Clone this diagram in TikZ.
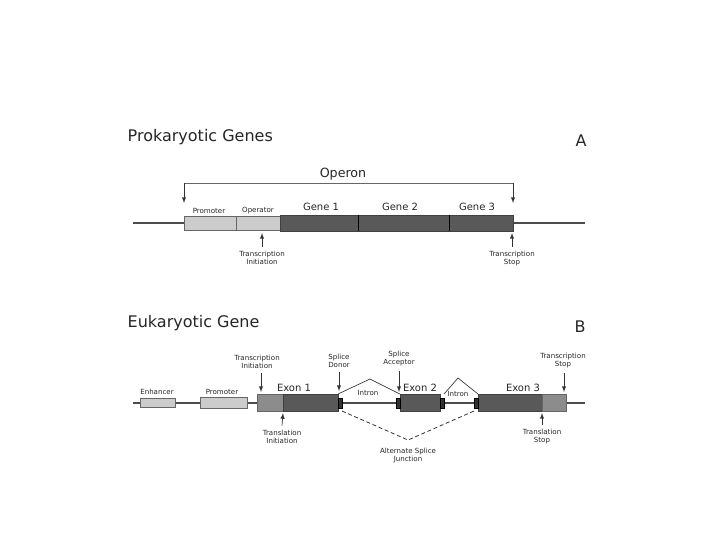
\documentclass[tikz,border=0pt]{standalone}
\usepackage{fontspec}
\setmainfont{DejaVu Sans}
\begin{document}
\begin{tikzpicture}[x=0.75pt,y=-0.75pt,
 dna/.style={line width=2.2pt,draw=black!70},
 lite/.style={fill=black!20,draw=black!60,line width=0.4pt},
 mid/.style={fill=black!45,draw=black!60,line width=0.4pt},
 dark/.style={fill=black!65,draw=black!75,line width=0.4pt},
 sitemark/.style={fill=black!80,draw=black},
 tiny/.style={font=\fontsize{5.3}{6}\selectfont,align=center,text=black!85},
 lab/.style={font=\fontsize{7.5}{9}\selectfont,text=black!85},
 ttl/.style={font=\fontsize{12}{14}\selectfont,text=black!85,anchor=west},
 arr/.style={-latex,line width=0.5pt,black!80}]
\useasboundingbox (0,0) rectangle (720,540);
% ---- A
\node[ttl] (t1) at (123,137) {Prokaryotic Genes};
\node[ttl] (a) at (571,141) {A};
\node[font=\fontsize{9.5}{11}\selectfont,text=black!85] (op) at (343,174) {Operon};
\coordinate (bl) at (184,183); \coordinate (br) at (513,183);
\coordinate (blb) at (184,203); \coordinate (brb) at (513,203);
\draw[black!60,line width=0.5pt] (bl) -- (br);
\draw[arr] (bl) -- (blb); \draw[arr] (br) -- (brb);
\coordinate (d1) at (133,223); \coordinate (d2) at (585,223);
\draw[dna] (d1) -- (d2);
\draw[lite] (184,216) rectangle (236,230);
\draw[lite] (236,216) rectangle (280,230);
\draw[dark] (280,215) rectangle (513,231);
\draw[black,line width=0.6pt] (358,215) -- (358,231) (449,215) -- (449,231);
\node[tiny] (pr) at (209,211) {Promoter};
\node[tiny] (opr) at (258,211) {Operator};
\node[lab] (g1) at (321,207) {Gene 1};
\node[lab] (g2) at (400,207) {Gene 2};
\node[lab] (g3) at (477,207) {Gene 3};
\node[tiny] (ti) at (262,258) {Transcription\\Initiation};
\node[tiny] (ts) at (512,259) {Transcription\\Stop};
\draw[arr] (ti.north) -- (262,233);
\draw[arr] (ts.north) -- (512,233);
% ---- B
\node[ttl] (t2) at (123,323) {Eukaryotic Gene};
\node[ttl] (b) at (570,327) {B};
\coordinate (e1) at (133,403); \coordinate (e2) at (585,403);
\draw[dna] (e1) -- (e2);
\draw[lite] (140,398) rectangle (175,407);
\draw[lite] (200,397) rectangle (247,408);
\node[tiny] (en) at (157,392) {Enhancer};
\node[tiny] (pm) at (222,392) {Promoter};
\draw[mid] (257,394) rectangle (283,411);
\draw[dark] (283,394) rectangle (338,411);
\draw[dark] (400,394) rectangle (440,411);
\draw[dark] (478,394) rectangle (542,411);
\draw[mid] (542,394) rectangle (566,411);
\foreach \x in {338,396,440,474} \draw[sitemark] (\x,398) rectangle (\x+4,408);
\node[lab] (x1) at (294,388) {Exon 1};
\node[lab] (x2) at (420,388) {Exon 2};
\node[lab] (x3) at (523,388) {Exon 3};
\node[tiny] (in1) at (368,393) {Intron};
\node[tiny] (in2) at (458,394) {Intron};
\draw[black!80,line width=0.5pt] (338,394) -- (370,379) -- (400,394);
\draw[black!80,line width=0.5pt] (444,394) -- (458,378) -- (478,394);
\draw[black!80,line width=0.6pt,densely dashed] (342,411) -- (408,440) -- (474,411);
\node[tiny] (as) at (408,456) {Alternate Splice\\Junction};
\node[tiny] (tri) at (257,362) {Transcription\\Initiation};
\node[tiny] (sd) at (339,361) {Splice\\Donor};
\node[tiny] (sa) at (399,359) {Splice\\Acceptor};
\node[tiny] (trs) at (563,361) {Transcription\\Stop};
\draw[arr] (261,373) -- (261,392);
\draw[arr] (sd.south) -- (339,391);
\draw[arr] (sa.south) -- (399,392);
\draw[arr] (564,373) -- (564,392);
\node[tiny] (tli) at (282,437) {Translation\\Initiation};
\node[tiny] (tls) at (542,437) {Translation\\Stop};
\draw[arr] (tli.north) -- (283,413);
\draw[arr] (tls.north) -- (542,413);
\end{tikzpicture}
\end{document}
